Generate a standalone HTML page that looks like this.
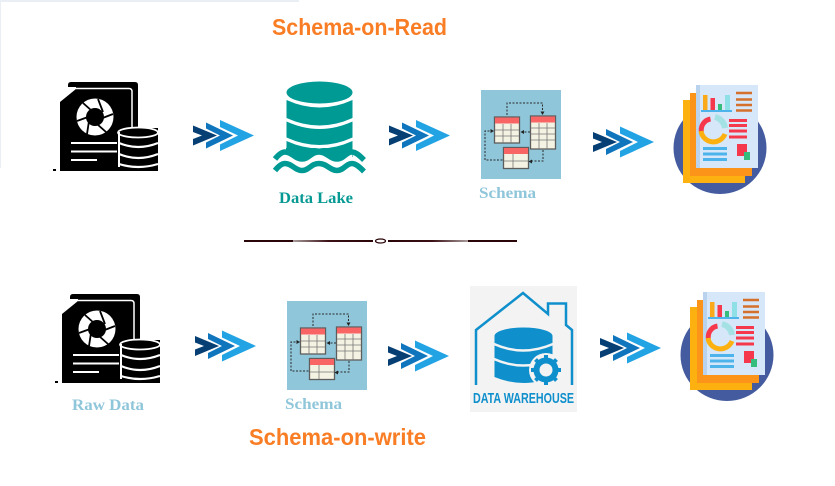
<!DOCTYPE html>
<html><head><meta charset="utf-8"><style>
html,body{margin:0;padding:0;background:#fff;width:835px;height:486px;overflow:hidden}
svg{display:block}
.t{font:bold 23px "Liberation Sans",sans-serif;fill:#f97d24}
.l{font:bold 16px "Liberation Serif",serif}
</style></head><body>
<svg width="835" height="486" viewBox="0 0 835 486" xmlns="http://www.w3.org/2000/svg">
<defs>
<linearGradient id="fadeL" x1="0" x2="1" y1="0" y2="0"><stop offset="0" stop-color="#a89a9a"/><stop offset=".45" stop-color="#3a1014"/><stop offset="1" stop-color="#2a0508"/></linearGradient>
<linearGradient id="fadeR" x1="1" x2="0" y1="0" y2="0"><stop offset="0" stop-color="#a89a9a"/><stop offset=".45" stop-color="#3a1014"/><stop offset="1" stop-color="#2a0508"/></linearGradient>
<g id="arrow">
<path d="M0-10 24 0 0 10V3.500L9 0 0-3.500Z" fill="#063f73"/>
<path d="M13-13 40 0 13 13V7L27 0 13-7Z" fill="#0f75bd"/>
<path d="M27-15.500 61 0 27 15.500V9L45 0 27-8.500Z" fill="#22a3e3"/>
</g>
<g id="doc">
<path d="M68 87V85q0-3 3-3h64q3 0 3 3v50H76V87Z" fill="#000"/>
<path d="M60 102 76 89h57v81H60Z" fill="#000"/>
<path d="M76 88.500H129q3 0 3 3V128" fill="none" stroke="#fff" stroke-width="1.500"/>
<circle cx="95" cy="117" r="18.500" fill="#fff"/>
<circle cx="95" cy="117" r="9" fill="#000"/>
<path d="M98 99 103 112M113 114 100 119M106 132 97 124M87 134 89 121M77 121 88 117M83 103 92 111" stroke="#000" stroke-width="1.800"/>
<path d="M71 143h46M71 151.500h46M71 160h26" stroke="#fff" stroke-width="2"/>
<rect x="53" y="169" width="3" height="2" fill="#000"/>
<rect x="60" y="169" width="98" height="2" fill="#000"/>
<rect x="118" y="128" width="40" height="42" fill="#000"/>
<ellipse cx="138" cy="132.500" rx="20" ry="5" fill="#000" stroke="#fff" stroke-width="1.800"/>
<path d="M119 132V167" stroke="#fff" stroke-width="2"/>
<path d="M119 143q19 8 39 0M119 154q19 8 39 0M119 164q19 6 39 0" fill="none" stroke="#fff" stroke-width="2.200"/>
</g>
<g id="schema">
<rect x="481" y="90" width="80" height="89" fill="#8fc6da"/>
<g fill="#f4f2e2" stroke="#5d5d5d" stroke-width="1.300">
<rect x="494.500" y="117" width="25" height="26"/>
<rect x="530.500" y="116" width="25" height="33"/>
<rect x="503.500" y="147.500" width="25" height="21"/>
</g>
<g fill="#f96565">
<rect x="495" y="117.500" width="24" height="6"/>
<rect x="531" y="116.500" width="24" height="6"/>
<rect x="504" y="148" width="24" height="6"/>
</g>
<path d="M495 130h24M495 136h24M503 124v19M511 124v19M531 128h24M531 134h24M531 140h24M539 123v26M547 123v26M504 161h24M513 154v14" stroke="#777" stroke-width=".8" fill="none"/>
<path d="M507 115v-12h35.500v9M530 132h-7M493 131h-8v29h18M543 150v11h-11" fill="none" stroke="#2a2a2a" stroke-width="1" stroke-dasharray="2 1.500"/>
<path d="M540.500 111.500h4l-2 3.500ZM520.500 132l3.500-2v4ZM494 131l-3.500-2v4ZM528.500 161.500l3.500-2v4Z" fill="#222"/>
</g>
<g id="report">
<ellipse cx="720" cy="148" rx="46.500" ry="46" fill="#445b9f"/>
<path d="M683 100h7v-7h6v75h56v8h-7v7h-62Z" fill="#fdb111"/>
<path d="M690 93h6v75h56v8h-62Z" fill="#fb9418"/>
<rect x="696" y="85" width="62" height="83" fill="#d6e7f9"/>
<rect x="696" y="85" width="4" height="83" fill="#b9d3ee"/>
<rect x="703" y="95" width="4.500" height="15" fill="#f9a91a"/>
<rect x="710.500" y="98" width="4.500" height="12" fill="#f6384c"/>
<rect x="718" y="104" width="4" height="6" fill="#35bd7e"/>
<rect x="725" y="95" width="5" height="15" fill="#8fdfe6"/>
<rect x="701" y="110" width="31" height="2" fill="#4cb4ea"/>
<path d="M736 93h16M736 99.500h16M736 105h16M736 110.500h16" stroke="#d5702b" stroke-width="2.500"/>
<path d="M701.500 132a11 11 0 0 1 9-13" fill="none" stroke="#f6384c" stroke-width="5"/>
<path d="M701 131a12.500 12.500 0 0 0 24 3" fill="none" stroke="#fdb111" stroke-width="5"/>
<path d="M715 117a13 13 0 0 1 10 11" fill="none" stroke="#a4e1e4" stroke-width="6"/>
<path d="M729 120.500h18M729 125.500h18M729 131h18M729 137h18" stroke="#f6384c" stroke-width="3"/>
<path d="M703 148.500h24M703 154h24M703 159.500h24" stroke="#4cb4ea" stroke-width="3"/>
<rect x="737" y="144" width="10" height="12" fill="#f6384c"/>
<rect x="744" y="152" width="6" height="8" fill="#35bd7e"/>
</g>
<path id="wave" d="M275 159C279 154 282 152 285 152C292 152 295 159 302 159C309 159 311 152 319 152C327 152 330 159 337 159C344 159 346 152 352 152C356 152 360 156 364 160" fill="none" stroke="#009a94" stroke-width="5.500"/>
</defs>

<rect x="0" y="0" width="299" height="2" fill="#e9eff4"/>
<rect x="0" y="0" width="1" height="168" fill="#e9eff4"/>

<text class="t" x="272" y="35" textLength="175" lengthAdjust="spacingAndGlyphs">Schema-on-Read</text>

<use href="#doc"/>
<use href="#arrow" x="193" y="135.500"/>
<ellipse cx="319.500" cy="92.500" rx="33" ry="11" fill="#009a94"/>
<path d="M286.500 100q33 15 66 0v18q-33 15-66 0Z M286.500 121.500q33 15 66 0v16q-33 15-66 0Z M286.500 141q33 15 66 0v16h-66Z" fill="#009a94"/>
<path d="M275 159C279 154 282 152 285 152C292 152 295 159 302 159C309 159 311 152 319 152C327 152 330 159 337 159C344 159 346 152 352 152V170H286V152Z" fill="#fff"/>
<path d="M286 148h66v3C346 149 342 153 337 155C330 155 327 148 319 148C311 148 309 155 302 155C295 155 292 148 286 151Z" fill="#009a94"/>
<use href="#wave"/>
<use href="#wave" y="11.500"/>
<text class="l" x="279" y="203" textLength="74" fill="#079a94" lengthAdjust="spacingAndGlyphs">Data Lake</text>
<use href="#arrow" x="389" y="135.500"/>
<use href="#schema"/>
<text class="l" x="479" y="198" textLength="57" fill="#8fc6da" lengthAdjust="spacingAndGlyphs">Schema</text>
<use href="#arrow" x="593" y="142"/>
<use href="#report"/>

<rect x="244" y="240" width="49" height="2" fill="#2a0508"/>
<rect x="293" y="240" width="80" height="2" fill="url(#fadeL)"/>
<rect x="388" y="240" width="80" height="2" fill="url(#fadeR)"/>
<rect x="468" y="240" width="49" height="2" fill="#2a0508"/>
<ellipse cx="380.500" cy="241" rx="5" ry="2" fill="#fff" stroke="#2a0508" stroke-width="1.200"/>

<use href="#doc" x="2" y="212"/>
<use href="#arrow" x="195" y="346"/>
<text class="l" x="72" y="410" textLength="72" fill="#8fc6da" lengthAdjust="spacingAndGlyphs">Raw Data</text>
<use href="#schema" x="-194" y="211"/>
<text class="l" x="285" y="409" textLength="57" fill="#8fc6da" lengthAdjust="spacingAndGlyphs">Schema</text>
<use href="#arrow" x="388" y="356"/>

<rect x="470" y="286" width="107" height="126" fill="#f3f3f3"/>
<path d="M476 385V330L523 293 548 314V303.500H566V325L572 330V385" fill="none" stroke="#0f8fcc" stroke-width="2.500"/>
<path d="M494.500 336v41q29 12 58 0V336Z" fill="#0f8fcc"/>
<ellipse cx="523.500" cy="336" rx="29" ry="8.500" fill="#0f8fcc"/>
<path d="M494 344q29 13 59 0M494 359q29 13 59 0" fill="none" stroke="#f3f3f3" stroke-width="2.500"/>
<circle cx="546" cy="370" r="17" fill="#f3f3f3"/>
<circle cx="546" cy="370" r="9.500" fill="none" stroke="#0f8fcc" stroke-width="6"/>
<path d="M546 355v30M531 370h30M535.500 359.500l21 21M556.500 359.500l-21 21" stroke="#0f8fcc" stroke-width="4" stroke-dasharray="4 22"/>
<text x="473" y="403" textLength="101" lengthAdjust="spacingAndGlyphs" style="font:bold 15px 'Liberation Sans',sans-serif" fill="#0f8fcc">DATA WAREHOUSE</text>

<use href="#arrow" x="600" y="348"/>
<use href="#report" x="7" y="207"/>

<text class="t" x="249" y="445" textLength="177" lengthAdjust="spacingAndGlyphs">Schema-on-write</text>
</svg>
</body></html>
